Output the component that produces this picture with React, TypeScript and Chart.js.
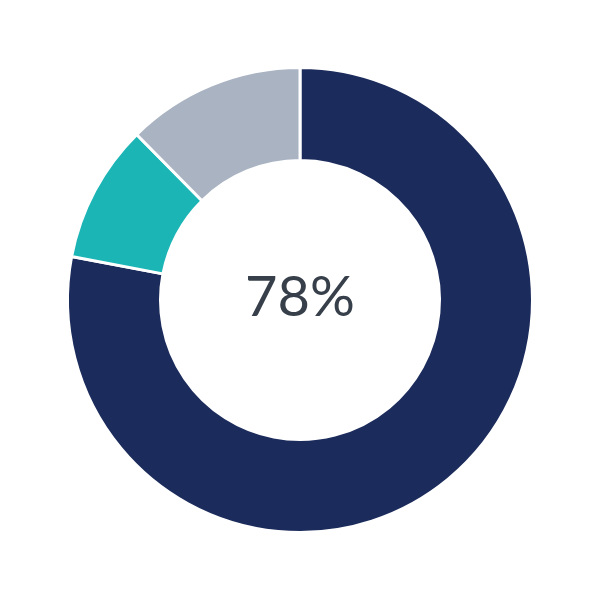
import React, { useEffect, useRef } from "react";
import { Chart, registerables } from "chart.js";

Chart.register(...registerables);

const labels = ["Primary", "Secondary", "Other"];
const values = [78, 9.6, 12.4];
const colors = ["#1b2b5b", "#1bb5b6", "#a9b3c2"];
const centerLabel = "78%";

export default function App() {
  const ref = useRef<HTMLCanvasElement | null>(null);
  useEffect(() => {
    if (!ref.current) return;
    const centerText = {
      id: "centerText",
      afterDraw(chart: any) {
        const { ctx, chartArea } = chart;
        const cx = (chartArea.left + chartArea.right) / 2;
        const cy = (chartArea.top + chartArea.bottom) / 2;
        ctx.save();
        ctx.font = "400 56px Lato";
        ctx.fillStyle = "#363f4a";
        ctx.textAlign = "center";
        ctx.textBaseline = "middle";
        ctx.fillText(centerLabel, cx, cy - 2);
        ctx.restore();
      },
    };
    const chart = new Chart(ref.current, {
      type: "doughnut",
      data: {
        labels,
        datasets: [
          {
            data: values,
            backgroundColor: colors,
            borderColor: "#ffffff",
            borderWidth: 3,
          },
        ],
      },
      options: {
        animation: false,
        responsive: false,
        cutout: "60%",
        layout: { padding: 66 },
        plugins: {
          legend: { display: false },
          tooltip: { enabled: false },
        },
      },
      plugins: [centerText],
    });
    return () => chart.destroy();
  }, []);
  return (
    <div style={{ position: "fixed", left: 0, top: 0, width: 600, height: 600, background: "#fff" }}>
      <canvas ref={ref} width={600} height={600} style={{ width: 600, height: 600 }} />
    </div>
  );
}
